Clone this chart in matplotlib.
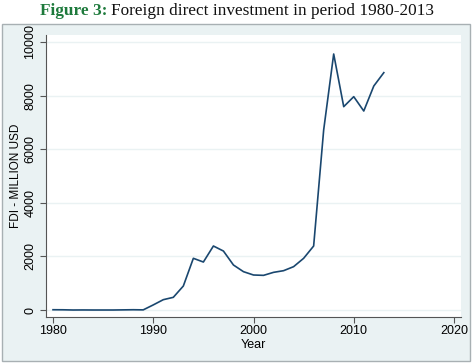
import matplotlib
matplotlib.use("Agg")
import matplotlib.pyplot as plt
from matplotlib.patches import Rectangle

years = list(range(1980, 2014))
fdi = [10, 8, 0, 2, 0, 0, 0, 5, 10, 5,
       190, 385, 473, 895, 1929, 1790, 2388, 2200, 1679, 1430,
       1306, 1293, 1405, 1467, 1617, 1928, 2388, 6716, 9552, 7587,
       7960, 7425, 8358, 8856]
xticks = [1980, 1990, 2000, 2010, 2020]
yticks = [0, 2000, 4000, 6000, 8000, 10000]

W, H = 474, 363
fig = plt.figure(figsize=(W/100, H/100), dpi=100)
fig.patch.set_facecolor("white")

# Stata-like outer graph region
bg = Rectangle((2/W, 2/H), 468/W, (361-24)/H, transform=fig.transFigure,
               facecolor="#EAF2F3", edgecolor="#A8B0B3", linewidth=1.0, zorder=-10)
fig.patches.append(bg)

AX_L, AX_R, AX_T, AX_B = 46, 461, 35, 317
ax = fig.add_axes([AX_L/W, (H-AX_B)/H, (AX_R-AX_L)/W, (AX_B-AX_T)/H])
ax.set_zorder(5)
ax.set_facecolor("white")
ax.plot(years, fdi, color="#1A476F", linewidth=1.2)
ax.set_xlim(1979.3, 2020.7)
ax.set_ylim(-261, 10261)
ax.set_xticks(xticks)
ax.set_yticks(yticks)
ax.set_xticklabels([str(x) for x in xticks], fontfamily="Liberation Sans", fontsize=9)
ax.set_yticklabels([str(y) for y in yticks], fontfamily="Liberation Sans", fontsize=9,
                   rotation=90, va="center")
ax.grid(axis="y", color="#EAF2F3", linewidth=1.0)
ax.set_axisbelow(True)
for s in ["top", "right"]:
    ax.spines[s].set_visible(False)
for s in ["left", "bottom"]:
    ax.spines[s].set_color("#555555")
    ax.spines[s].set_linewidth(0.8)
ax.tick_params(axis="x", direction="out", length=4, width=0.8, color="#555555", pad=2)
ax.tick_params(axis="y", direction="out", length=4, width=0.8, color="#555555", pad=3)
ax.set_xlabel("Year", fontfamily="Liberation Sans", fontsize=9)
ax.set_ylabel("FDI - MILLION USD", fontfamily="Liberation Sans", fontsize=8.5)
ax.yaxis.set_label_coords((22-AX_L)/(AX_R-AX_L), 0.5)
ax.xaxis.set_label_coords(0.5, (AX_B-339)/(AX_B-AX_T))

t1 = fig.text(40/W, (H-11)/H, "Figure 3:", ha="left", va="center",
              fontfamily="Liberation Serif", fontsize=12.4, fontweight="bold", color="#1E7A3C")
fig.canvas.draw()
bb = t1.get_window_extent()
fig.text((bb.x1 + 4)/W, (H-11)/H, "Foreign direct investment in period 1980-2013", ha="left", va="center",
         fontfamily="Liberation Serif", fontsize=12.4, color="#111111")

fig.savefig("out.png", dpi=100, facecolor="white")
